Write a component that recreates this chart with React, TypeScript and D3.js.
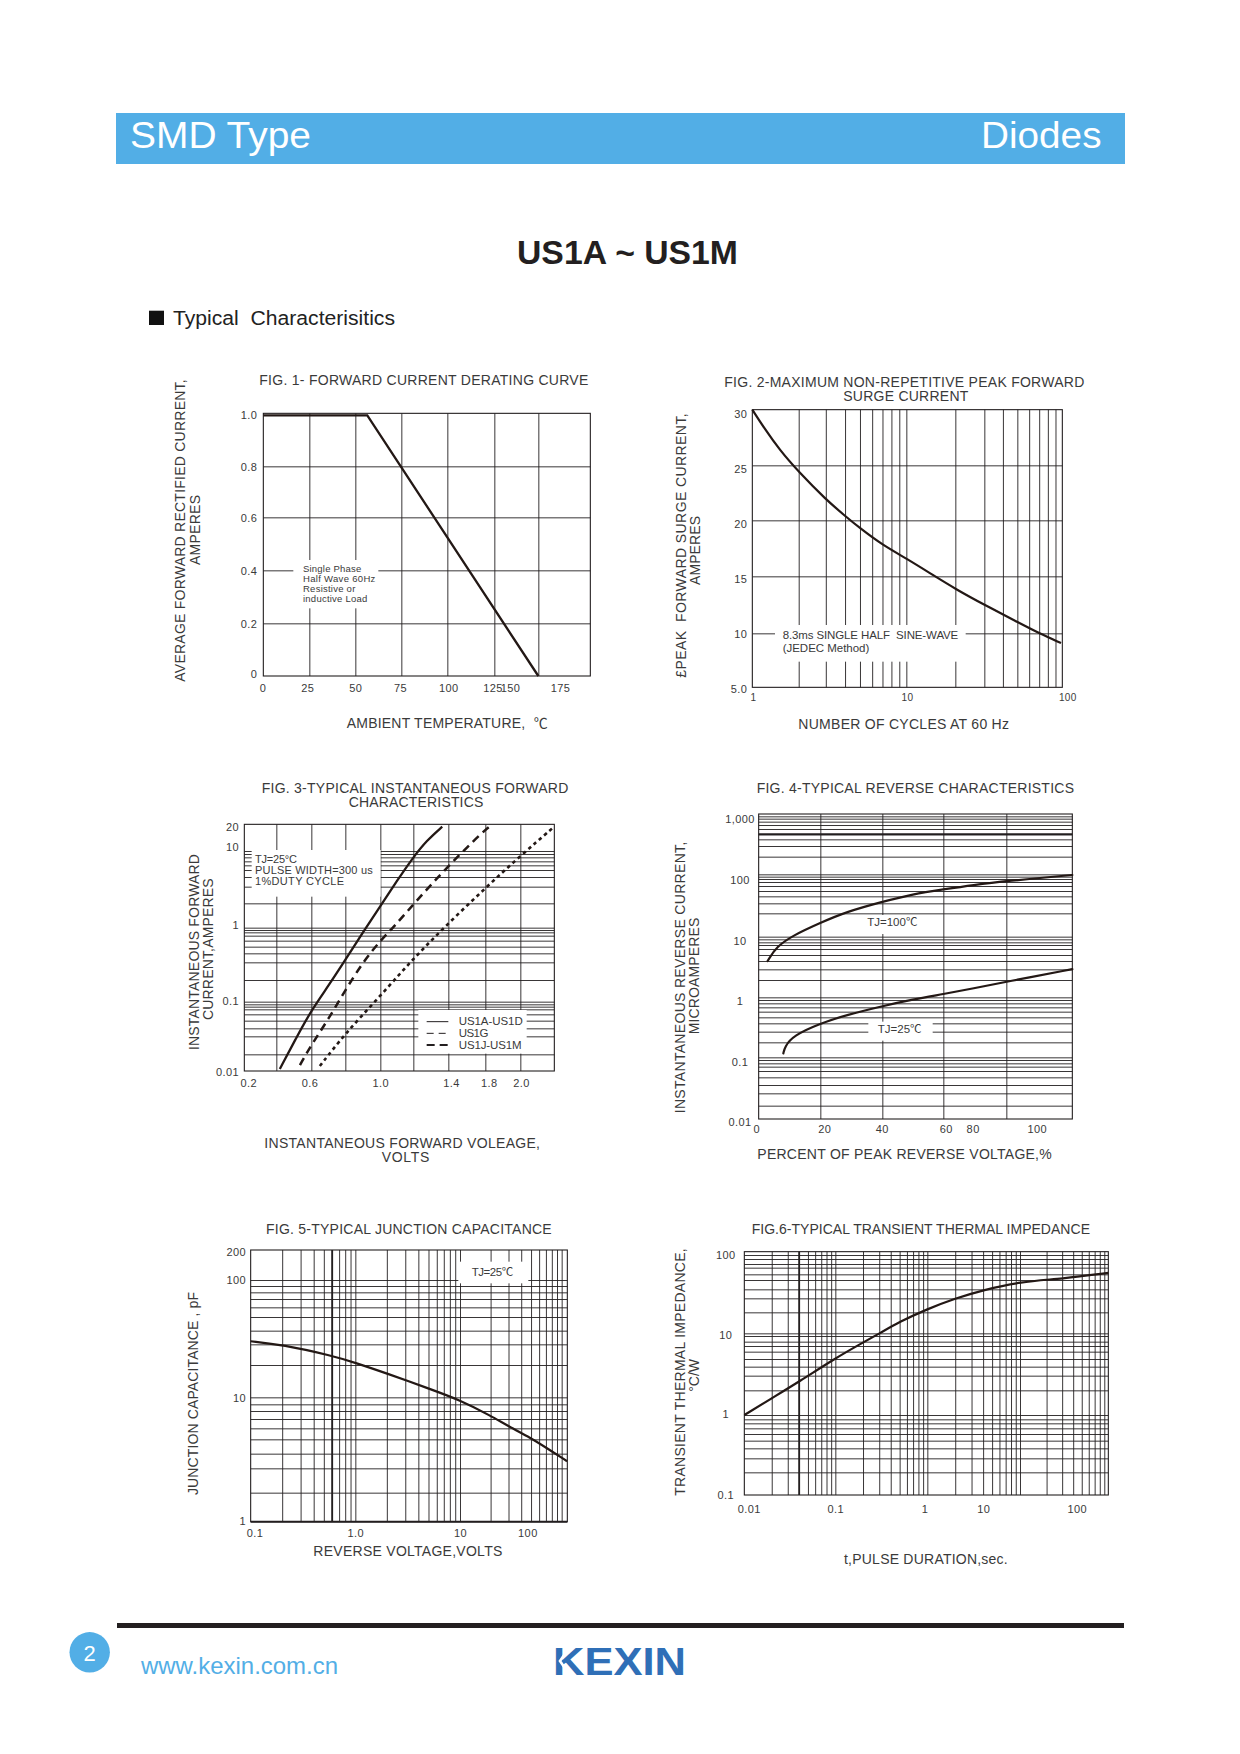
import { useEffect, useRef } from "react";
import * as d3 from "d3";

const INK = "#231f20";
const TEXT = "#3a3a3a";
const BLUE = "#52aee6";
const FONT = "'Liberation Sans', Arial, 'Noto Sans CJK SC', sans-serif";

// fig 1
const fig1Temp = [0, 56.5, 150];
const fig1Current = [0.992, 0.992, 0];
const fig1XGrid = [25, 50, 75, 100, 125, 150];
const fig1YGrid = [0.2, 0.4, 0.6, 0.8];
const fig1XLabels = ["0", "25", "50", "75", "100", "125", "150", "175"];
const fig1XLabelAt = [-0.5, 23.9, 50, 74.3, 100.5, 124, 133.9, 161.5];
const fig1YLabels = ["0", "0.2", "0.4", "0.6", "0.8", "1.0"];
const fig1YLabelAt = [0.01, 0.2, 0.4, 0.6, 0.8, 0.995];

// fig 2
const fig2Cycles = [1, 1.2, 1.5, 2, 3, 4, 5, 7, 10, 15, 20, 30, 50, 70, 98];
const fig2Surge = [30, 28.3, 26.4, 24.4, 21.9, 20.4, 19.3, 17.8, 16.6, 15, 13.9, 12.5, 11, 10, 9.1];
const fig2YGrid = [10, 15, 20, 25];
const fig2XLabels = ["1", "10", "100"];
const fig2XLabelAt = [1.01, 10.1, 108];
const fig2YLabels = ["5.0", "10", "15", "20", "25", "30"];
const fig2YLabelAt = [4.91, 10, 14.82, 19.73, 24.73, 29.67];

// fig 3
const fig3VoltsA = [0.42, 0.509, 0.6, 0.7, 0.8, 0.9, 1.0, 1.1, 1.2, 1.276, 1.365];
const fig3AmpsA = [0.0109, 0.028, 0.068, 0.165, 0.323, 0.8, 1.85, 3.55, 8.07, 13.1, 18.8];
const fig3VoltsG = [0.535, 0.6, 0.7, 0.8, 0.9, 1.0, 1.1, 1.2, 1.4, 1.6, 1.64];
const fig3AmpsG = [0.0128, 0.0247, 0.052, 0.145, 0.3, 0.6, 1.12, 1.95, 5.9, 17.6, 19.7];
const fig3VoltsJ = [0.65, 0.8, 1.0, 1.2, 1.4, 1.6, 1.8, 2.0];
const fig3AmpsJ = [0.0123, 0.0334, 0.12, 0.34, 1.13, 2.9, 8.4, 18.9];
const fig3XGrid = [0.4, 0.6, 0.8, 1.0, 1.2, 1.4, 1.6, 1.8];
const fig3YGrid = [0.01, 0.02, 0.03, 0.04, 0.05, 0.06, 0.07, 0.08, 0.09, 0.1, 0.2, 0.3, 0.4, 0.5, 0.6, 0.7, 0.8, 0.9, 1, 2, 3, 4, 5, 6, 7, 8, 9, 10, 20];
const fig3XLabels = ["0.2", "0.6", "1.0", "1.4", "1.8", "2.0"];
const fig3XLabelAt = [0.225, 0.589, 1.0, 1.414, 1.62, 1.804];
const fig3YLabels = ["0.01", "0.1", "1", "10", "20"];
const fig3YLabelAt = [0.0097, 0.105, 1.08, 11.2, 19.1];

// fig 4
const fig4Pct100 = [2.9, 5.8, 11.2, 20, 28.5, 40, 50, 60, 69.5, 80, 100];
const fig4Cur100 = [4.0, 6.6, 10.4, 15.1, 21.4, 32, 44, 53, 62.4, 73, 97];
const fig4Pct25 = [8, 8.5, 11.2, 20, 28.5, 40, 50, 60, 69.5, 80, 100];
const fig4Cur25 = [0.12, 0.164, 0.258, 0.4, 0.54, 0.73, 0.92, 1.14, 1.43, 1.87, 3.02];
const fig4XGrid = [20, 40, 60, 80];
const fig4YGrid = [0.01, 0.02, 0.03, 0.04, 0.05, 0.06, 0.07, 0.08, 0.09, 0.1, 0.2, 0.3, 0.4, 0.5, 0.6, 0.7, 0.8, 0.9, 1, 2, 3, 4, 5, 6, 7, 8, 9, 10, 20, 30, 40, 50, 60, 70, 80, 90, 100, 200, 300, 400, 450, 500, 600, 700, 800, 900, 1000];
const fig4XLabels = ["0", "20", "40", "60", "80", "100"];
const fig4XLabelAt = [-0.8, 21.3, 39.8, 60.8, 69.3, 89.2];
const fig4YLabels = ["0.01", "0.1", "1", "10", "100", "1,000"];
const fig4YLabelAt = [0.0088, 0.085, 0.88, 8.5, 78, 790];

// fig 5
const fig5Volts = [0.1, 0.2, 0.6, 1, 2, 5, 10, 20, 30, 50, 70, 113];
const fig5Cap = [32, 29.8, 24, 20.9, 16.7, 12.1, 9.6, 7.4, 6.2, 5.1, 4.4, 3.45];
const fig5YGrid = [1, 2, 3, 4, 5, 6, 7, 8, 9, 10, 20, 30, 40, 50, 60, 70, 80, 90, 100, 200];
const fig5XLabels = ["0.1", "1.0", "10", "100"];
const fig5XLabelAt = [0.109, 1, 10, 46];
const fig5YLabels = ["1", "10", "100", "200"];
const fig5YLabelAt = [1.03, 10, 102, 195];

// fig 6
const fig6Time = [0.01, 0.02, 0.04, 0.1, 0.2, 0.3, 0.5, 1, 2, 4, 10, 30, 100];
const fig6Imp = [1.0, 1.6, 2.54, 5.1, 7.8, 9.9, 14.7, 22, 30, 39, 48, 52, 62];
const fig6YGrid = [0.1, 0.2, 0.3, 0.4, 0.5, 0.6, 0.7, 0.8, 0.9, 1, 2, 3, 4, 5, 6, 7, 8, 9, 10, 20, 30, 40, 50, 60, 70, 80, 90, 100];
const fig6XLabels = ["0.01", "0.1", "1", "10", "100"];
const fig6XLabelAt = [0.0112, 0.1, 0.93, 4.02, 43.8];
const fig6YLabels = ["0.1", "1", "10", "100"];
const fig6YLabelAt = [0.102, 1.03, 9.7, 100];

// 1..9 times each decade, for the log grids
const decades = (starts: number[]) => starts.flatMap((s) => d3.range(1, 10).map((k) => +(s * k).toPrecision(3)));

const px = (origin: number, zs: number[]) => zs.map((z) => origin + z / 3);

const App = () => {
  const ref = useRef<SVGSVGElement>(null);

  useEffect(() => {
    const svg = d3.select(ref.current);
    svg.selectAll("*").remove();

    const text = (str: string, x: number, y: number, o: any = {}) => {
      const t = svg
        .append("text")
        .attr("font-family", FONT)
        .attr("font-size", o.size ?? 14)
        .attr("font-weight", o.weight ?? "normal")
        .attr("fill", o.fill ?? TEXT)
        .attr("text-anchor", o.anchor ?? "start")
        .attr("transform", o.rotate ? `translate(${x},${y}) rotate(-90)` : `translate(${x},${y})`)
        .style("white-space", "pre")
        .text(str);
      if (o.width) t.attr("textLength", o.width).attr("lengthAdjust", o.stretch ? "spacingAndGlyphs" : "spacing");
      return t;
    };
    const yTitle = (str: string, x: number, bottom: number, top: number) =>
      text(str, x, bottom, { rotate: true, width: bottom - top, size: 14 });

    const panel = (x: any, y: any, o: any) => {
      const xr = x.range();
      const yr = y.range();
      const [left, right] = [xr[0], xr[xr.length - 1]];
      const [bottom, top] = [yr[0], yr[yr.length - 1]];

      const g = svg.append("g");
      const grid = (sel: any) => {
        sel.select(".domain").remove();
        sel.selectAll("line").attr("stroke", INK).attr("stroke-width", 0.9);
      };
      g.append("g")
        .attr("transform", `translate(0,${bottom})`)
        .call(d3.axisBottom(x).tickValues(o.xGrid).tickSizeInner(-(bottom - top)).tickSizeOuter(0).tickFormat(() => "") as any)
        .call(grid);
      g.append("g")
        .attr("transform", `translate(${left},0)`)
        .call(d3.axisLeft(y).tickValues(o.yGrid).tickSizeInner(-(right - left)).tickSizeOuter(0).tickFormat(() => "") as any)
        .call(grid);

      (o.thickX ?? []).forEach((v: number) => g.append("line").attr("x1", x(v)).attr("x2", x(v)).attr("y1", top).attr("y2", bottom).attr("stroke", INK).attr("stroke-width", 1.8));
      (o.thickY ?? []).forEach((v: number) => g.append("line").attr("x1", left).attr("x2", right).attr("y1", y(v)).attr("y2", y(v)).attr("stroke", INK).attr("stroke-width", 2));

      g.append("rect")
        .attr("x", left)
        .attr("y", top)
        .attr("width", right - left)
        .attr("height", bottom - top)
        .attr("fill", "none")
        .attr("stroke", INK)
        .attr("stroke-width", 1.1);

      (o.boxes ?? []).forEach((b: number[]) =>
        g.append("rect").attr("x", b[0]).attr("y", b[1]).attr("width", b[2] - b[0]).attr("height", b[3] - b[1]).attr("fill", "#fff")
      );

      // tick labels sit where the original put them, not always on the grid
      const xa = g
        .append("g")
        .attr("transform", `translate(0,${o.xLabelY})`)
        .call(d3.axisBottom(x).tickValues(o.xLabelAt).tickSize(0).tickFormat((_: any, i: number) => o.xLabels[i]) as any);
      xa.select(".domain").remove();
      xa.selectAll("text").attr("y", 0).attr("dy", 0).attr("font-family", FONT).attr("font-size", o.xLabelSize ?? 11).attr("fill", TEXT).attr("letter-spacing", 0.4);

      const ya = g
        .append("g")
        .attr("transform", `translate(${o.yLabelX},0)`)
        .call(d3.axisLeft(y).tickValues(o.yLabelAt).tickSize(0).tickFormat((_: any, i: number) => o.yLabels[i]) as any);
      ya.select(".domain").remove();
      ya.selectAll("text")
        .attr("x", 0)
        .attr("dy", "0.36em")
        .attr("text-anchor", o.yLabelAnchor ?? "end")
        .attr("font-family", FONT)
        .attr("font-size", 11)
        .attr("fill", TEXT)
        .attr("letter-spacing", 0.4);

      (o.curves ?? []).forEach((c: any) => {
        // basis smooths the small reading errors in the values
        const line = d3
          .line<number>()
          .x((d) => x(d))
          .y((_, i) => y(c.ys[i]))
          .curve(c.straight ? d3.curveLinear : d3.curveBasis);
        g.append("path")
          .attr("d", line(c.xs))
          .attr("fill", "none")
          .attr("stroke", "#231815")
          .attr("stroke-width", c.width ?? 2)
          .attr("stroke-linecap", c.cap ?? "butt")
          .attr("stroke-dasharray", c.dash ?? null);
      });
    };

    // page furniture
    svg.append("rect").attr("x", 116).attr("y", 113).attr("width", 1009).attr("height", 51).attr("fill", BLUE);
    text("SMD Type", 130, 147.7, { size: 36, fill: "#fff", width: 181, stretch: true });
    text("Diodes", 981, 147.7, { size: 36, fill: "#fff", width: 120.5, stretch: true });
    text("US1A ~ US1M", 517, 264, { size: 33, weight: "bold", fill: INK, width: 221, stretch: true });
    svg.append("rect").attr("x", 149).attr("y", 310.7).attr("width", 15).attr("height", 14.3).attr("fill", "#111");
    text("Typical  Characterisitics", 173, 324.7, { size: 19.5, fill: "#222", width: 222, stretch: true });

    svg.append("rect").attr("x", 117).attr("y", 1623).attr("width", 1007).attr("height", 5).attr("fill", INK);
    svg.append("circle").attr("cx", 89.7).attr("cy", 1652.3).attr("r", 20.2).attr("fill", BLUE);
    text("2", 89.7, 1660.5, { size: 22, fill: "#fff", anchor: "middle" });
    text("www.kexin.com.cn", 141, 1674, { size: 24, fill: BLUE, width: 197, stretch: true });
    text("KEXIN", 553, 1674.7, { size: 39, weight: "bold", fill: "#2f6fb7", width: 133, stretch: true });
    // the chevron cut in the logo's K
    svg.append("polyline").attr("points", "571,1645 560,1661 571,1677").attr("fill", "none").attr("stroke", "#fff").attr("stroke-width", 2.6);

    // FIG 1
    {
      const ox = 150, oy = 360;
      const x = d3.scaleLinear().domain([0, 25, 50, 75, 100, 125, 150, 177.7]).range(px(ox, [340, 478, 616, 754, 892, 1033, 1165, 1321]));
      const y = d3.scaleLinear().domain([0, 0.2, 0.4, 0.6, 0.8, 1]).range(px(oy, [948, 790, 631, 472, 319, 160]));
      panel(x, y, {
        xGrid: fig1XGrid, yGrid: fig1YGrid,
        xLabels: fig1XLabels, xLabelAt: fig1XLabelAt, xLabelY: 691.7,
        yLabels: fig1YLabels, yLabelAt: fig1YLabelAt, yLabelX: 257.3,
        boxes: [[ox + 430 / 3, oy + 600 / 3, ox + 685 / 3, oy + 745 / 3]],
        curves: [{ xs: fig1Temp, ys: fig1Current, width: 2.3, straight: true }],
      });
      text("FIG. 1- FORWARD CURRENT DERATING CURVE", 259.3, 385, { width: 329 });
      yTitle("AVERAGE FORWARD RECTIFIED CURRENT,", 185, 681.7, 379.3);
      yTitle("AMPERES", 200, 565, 495);
      text("AMBIENT TEMPERATURE,  ℃", 346.7, 728, { width: 201 });
      text("Single Phase", 303, 572, { size: 9.5, width: 58.3 });
      text("Half Wave 60Hz", 303, 582, { size: 9.5, width: 72.3 });
      text("Resistive or", 303, 592, { size: 9.5, width: 52.3 });
      text("inductive Load", 303, 602, { size: 9.5, width: 64.3 });
    }

    // FIG 2
    {
      const ox = 660, oy = 360;
      const x = d3.scaleLog().domain([1, 10, 20, 30, 50, 100]).range(px(ox, [277, 739, 886, 973, 1072, 1207]));
      const y = d3.scaleLinear().domain([5, 10, 15, 20, 25, 30]).range(px(oy, [982, 820, 649, 481, 316, 149]));
      panel(x, y, {
        xGrid: decades([1, 10]).slice(1), yGrid: fig2YGrid,
        xLabels: fig2XLabels, xLabelAt: fig2XLabelAt, xLabelY: 700.7, xLabelSize: 10,
        yLabels: fig2YLabels, yLabelAt: fig2YLabelAt, yLabelX: 747.3,
        boxes: [[ox + 345 / 3, oy + 795 / 3, ox + 917 / 3, oy + 905 / 3]],
        curves: [{ xs: fig2Cycles, ys: fig2Surge, width: 2.2 }],
      });
      text("FIG. 2-MAXIMUM NON-REPETITIVE PEAK FORWARD", 724.3, 386.7, { width: 360 });
      text("SURGE CURRENT", 843.3, 400.7, { width: 125 });
      yTitle("£PEAK  FORWARD SURGE CURRENT,", 685.7, 677.7, 413.3);
      yTitle("AMPERES", 700, 585, 516);
      text("NUMBER OF CYCLES AT 60 Hz", 798.3, 729.3, { width: 210.7 });
      text("8.3ms SINGLE HALF  SINE-WAVE", 782.7, 638.7, { size: 11.5, width: 175.6 });
      text("(JEDEC Method)", 782.7, 652, { size: 11.5, width: 86.6 });
    }

    // FIG 3
    {
      const ox = 170, oy = 770;
      const x = d3.scaleLinear().domain([0.2, 0.4, 0.6, 0.8, 1, 1.2, 1.4, 1.6, 1.8, 2]).range(px(ox, [223, 319, 424, 526, 631, 730, 835, 946, 1051, 1153]));
      const y = d3.scaleLog().domain(fig3YGrid).range(px(oy, [903, 853, 799, 775, 752, 733, 718, 710, 703, 695, 630, 577, 550, 530, 512, 497, 487, 480, 473, 400, 350, 321, 300, 286, 274, 262, 252, 243, 163]));
      panel(x, y, {
        xGrid: fig3XGrid, yGrid: fig3YGrid.slice(1, -1),
        xLabels: fig3XLabels, xLabelAt: fig3XLabelAt, xLabelY: 1087.3,
        yLabels: fig3YLabels, yLabelAt: fig3YLabelAt, yLabelX: 239,
        boxes: [
          [ox + 245 / 3, oy + 240 / 3, ox + 632 / 3, oy + 380 / 3],
          [ox + 745 / 3, oy + 720 / 3, ox + 1070 / 3, oy + 851 / 3],
        ],
        curves: [
          { xs: fig3VoltsA, ys: fig3AmpsA, width: 2.3 },
          { xs: fig3VoltsG, ys: fig3AmpsG, width: 2.5, dash: "8 5.5" },
          { xs: fig3VoltsJ, ys: fig3AmpsJ, width: 2.6, dash: "3.5 3.5" },
        ],
      });
      text("FIG. 3-TYPICAL INSTANTANEOUS FORWARD", 261.7, 792.7, { width: 306.6 });
      text("CHARACTERISTICS", 348.7, 807.3, { width: 134.6 });
      yTitle("INSTANTANEOUS FORWARD", 199.3, 1050, 854);
      yTitle("CURRENT,AMPERES", 213.3, 1020, 878.3);
      text("INSTANTANEOUS FORWARD VOLEAGE,", 264.3, 1147.7, { width: 275.7 });
      text("VOLTS", 381.7, 1161.7, { width: 47.6 });
      text("TJ=25°C", 255, 862.7, { size: 11, width: 42 });
      text("PULSE WIDTH=300 us", 255, 873.7, { size: 11, width: 117.7 });
      text("1%DUTY CYCLE", 255, 885.3, { size: 11, width: 89 });

      const legendX = px(ox, [770, 835]);
      [
        { label: "US1A-US1D", z: 755, w: 64, dash: null, sw: 1 },
        { label: "US1G", z: 790, w: 29.7, dash: "7 5", sw: 1 },
        { label: "US1J-US1M", z: 825, w: 63, dash: "8 5", sw: 2.2 },
      ].forEach((d) => {
        svg.append("line").attr("x1", legendX[0]).attr("x2", legendX[1]).attr("y1", oy + d.z / 3).attr("y2", oy + d.z / 3).attr("stroke", INK).attr("stroke-width", d.sw).attr("stroke-dasharray", d.dash);
        text(d.label, 458.7, oy + d.z / 3 + 3.7, { size: 11.5, width: d.w });
      });
    }

    // FIG 4
    {
      const ox = 660, oy = 770;
      const x = d3.scaleLinear().domain([0, 20, 40, 60, 80, 100]).range(px(ox, [296, 481, 667, 850, 1039, 1237]));
      const y = d3.scaleLog().domain(fig4YGrid).range(px(805, [942, 902, 865, 840, 817, 798, 785, 775, 765, 757, 712, 680, 655, 637, 620, 607, 595, 585, 577, 525, 493, 468, 450, 432, 420, 412, 403, 395, 325, 295, 274, 258, 243, 231, 222, 215, 208, 155, 123, 103, 88, 72, 60, 50, 41, 34, 27]));
      panel(x, y, {
        xGrid: fig4XGrid, yGrid: fig4YGrid.slice(1, -1),
        thickY: [450],
        xLabels: fig4XLabels, xLabelAt: fig4XLabelAt, xLabelY: 1132.7,
        yLabels: fig4YLabels, yLabelAt: fig4YLabelAt, yLabelX: 740, yLabelAnchor: "middle",
        boxes: [
          [ox + 610 / 3, oy + 435 / 3, ox + 790 / 3, oy + 492 / 3],
          [ox + 625 / 3, oy + 755 / 3, ox + 818 / 3, oy + 812 / 3],
        ],
        curves: [
          { xs: fig4Pct100, ys: fig4Cur100, width: 2.2, cap: "round" },
          { xs: fig4Pct25, ys: fig4Cur25, width: 2.2, cap: "round" },
        ],
      });
      text("FIG. 4-TYPICAL REVERSE CHARACTERISTICS", 756.7, 792.7, { width: 317.3 });
      yTitle("INSTANTANEOUS REVERSE CURRENT,", 685, 1113.3, 841.7);
      yTitle("MICROAMPERES", 699.3, 1034.3, 917.7);
      text("PERCENT OF PEAK REVERSE VOLTAGE,%", 757.3, 1159, { width: 294.4 });
      text("TJ=100℃", 892.3, 925.7, { size: 11.5, anchor: "middle" });
      text("TJ=25℃", 899.7, 1033.3, { size: 11.5, anchor: "middle" });
    }

    // FIG 5
    {
      const ox = 170, oy = 1210;
      const x = d3.scaleLog().domain([0.1, 1, 10, 100, 113.7]).range(px(ox, [242, 556, 870, 1175, 1192]));
      const y = d3.scaleLog().domain(fig5YGrid).range(px(1245, [830, 743, 670, 626, 583, 550, 522, 498, 478, 457, 360, 298, 257, 216, 187, 162, 142, 123, 105, 15]));
      panel(x, y, {
        xGrid: [...decades([0.1, 1, 10]).slice(1), 100], yGrid: fig5YGrid.slice(1, -1),
        thickX: [0.6], thickY: [1],
        xLabels: fig5XLabels, xLabelAt: fig5XLabelAt, xLabelY: 1536.7,
        yLabels: fig5YLabels, yLabelAt: fig5YLabelAt, yLabelX: 246,
        boxes: [[ox + 865 / 3, oy + 155 / 3, ox + 1075 / 3, oy + 220 / 3]],
        curves: [{ xs: fig5Volts, ys: fig5Cap, width: 2.2 }],
      });
      text("FIG. 5-TYPICAL JUNCTION CAPACITANCE", 266, 1234, { width: 285.7 });
      yTitle("JUNCTION CAPACITANCE , pF", 198.3, 1495, 1292);
      text("REVERSE VOLTAGE,VOLTS", 313.3, 1555.7, { width: 189 });
      text("TJ=25℃", 471.7, 1275.7, { size: 11.5, width: 41.6 });
    }

    // FIG 6
    {
      const x = d3.scaleLog().domain([0.01, 0.1, 1, 10, 100]).range(px(660, [253, 526, 802, 1080, 1345]));
      const y = d3.scaleLog().domain([...fig6YGrid, 110]).range(px(1245, [750, 682, 640, 610, 587, 567, 550, 535, 523, 510, 436, 392, 365, 342, 320, 303, 290, 273, 265, 202, 160, 133, 105, 88, 68, 57, 42, 30, 20]));
      panel(x, y, {
        xGrid: [...decades([0.01, 0.1, 1, 10]).slice(1)], yGrid: fig6YGrid.slice(1),
        thickX: [0.04],
        xLabels: fig6XLabels, xLabelAt: fig6XLabelAt, xLabelY: 1512.7,
        yLabels: fig6YLabels, yLabelAt: fig6YLabelAt, yLabelX: 725.7, yLabelAnchor: "middle",
        curves: [{ xs: fig6Time, ys: fig6Imp, width: 2.2 }],
      });
      text("FIG.6-TYPICAL TRANSIENT THERMAL IMPEDANCE", 751.7, 1234, { width: 338.3 });
      yTitle("TRANSIENT THERMAL IMPEDANCE,", 685, 1495.7, 1248.3);
      yTitle("°C/W", 699.3, 1391.7, 1359);
      text("t,PULSE DURATION,sec.", 844, 1564, { width: 163.7 });
    }
  }, []);

  return <svg ref={ref} width={1240} height={1754} style={{ position: "absolute", left: 0, top: 0, background: "#fff" }} />;
};

export default App;
